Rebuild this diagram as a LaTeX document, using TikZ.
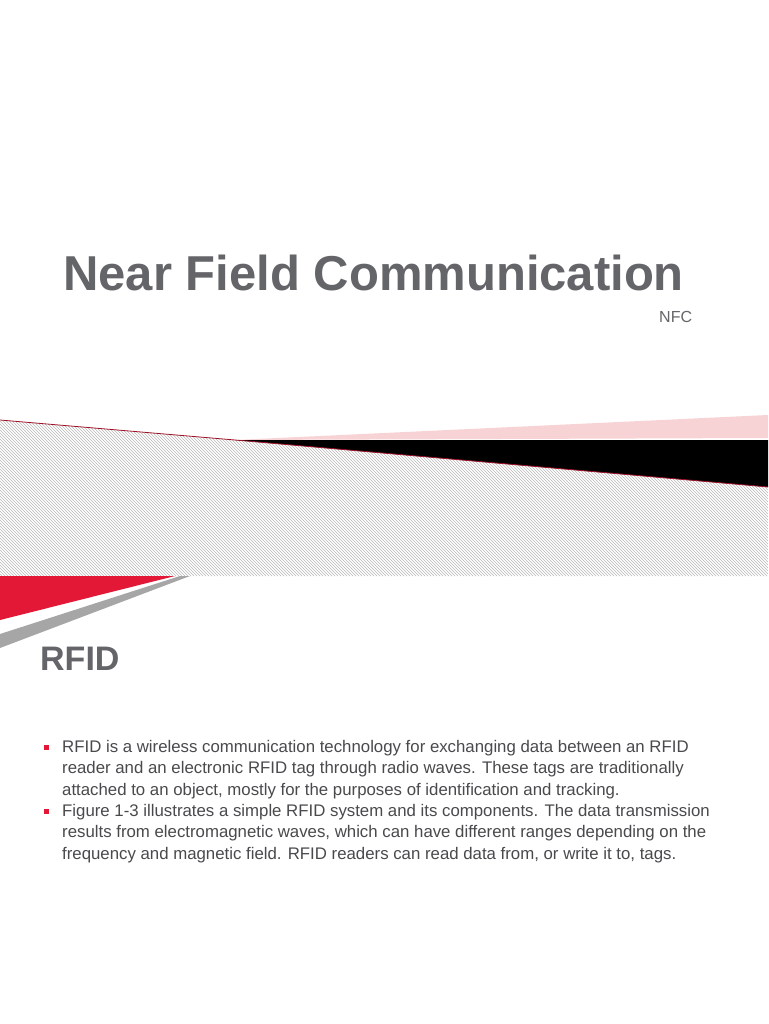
\documentclass[tikz,border=0pt]{standalone}
\usepackage{fontspec}
\setmainfont{Liberation Sans}
\usetikzlibrary{patterns}
\definecolor{tgray}{HTML}{646569}
\definecolor{bodyc}{HTML}{4A4A4D}
\definecolor{bred}{HTML}{E31837}
\definecolor{pinkw}{HTML}{F8D3D5}
\begin{document}
\begin{tikzpicture}[x=1pt,y=-1pt,
  body/.style={anchor=north west,inner sep=0,font=\fontsize{16.8}{21.5}\selectfont,text=bodyc,align=left},
  bul/.style={fill=bred,minimum size=5,inner sep=0}]
\useasboundingbox (0,0) rectangle (768,1024);
\fill[white] (0,0) rectangle (768,1024);
% band
\fill[pattern=north west lines,pattern color=gray!55] (0,420) -- (235,440) -- (768,487) -- (768,576) -- (0,576) -- cycle;
\fill[pinkw] (235,440) -- (768,415) -- (768,438) -- cycle;
\fill[black] (235,440) -- (768,440) -- (768,487) -- cycle;
\draw[bred!70!black,line width=0.8] (0,420) -- (235,440) -- (768,487);
\fill[bred] (0,576) -- (175,576) -- (0,620) -- cycle;
\fill[gray!70] (180,576) -- (190,576) -- (0,648) -- (0,634) -- cycle;
% texts
\node[anchor=base west,inner sep=0,text=tgray,font=\bfseries\fontsize{49}{60}\selectfont] (title) at (63,290) {Near Field Communication};
\node[anchor=base west,inner sep=0,text=tgray,font=\fontsize{16}{19}\selectfont] (nfc) at (659,322) {NFC};
\node[anchor=base west,inner sep=0,text=tgray,font=\bfseries\fontsize{34}{40}\selectfont] (rfid) at (40,670) {RFID};
\node[bul] (b1) at (46.5,747) {};
\node[body] (t1) at (62,740) {RFID is a wireless communication technology for exchanging data between an RFID\\reader and an electronic RFID tag through radio waves. These tags are traditionally\\attached to an object, mostly for the purposes of identification and tracking.};
\node[bul] (b2) at (46.5,811) {};
\node[body] (t2) at (62,804) {Figure 1-3 illustrates a simple RFID system and its components. The data transmission\\results from electromagnetic waves, which can have different ranges depending on the\\frequency and magnetic field. RFID readers can read data from, or write it to, tags.};
\end{tikzpicture}
\end{document}
